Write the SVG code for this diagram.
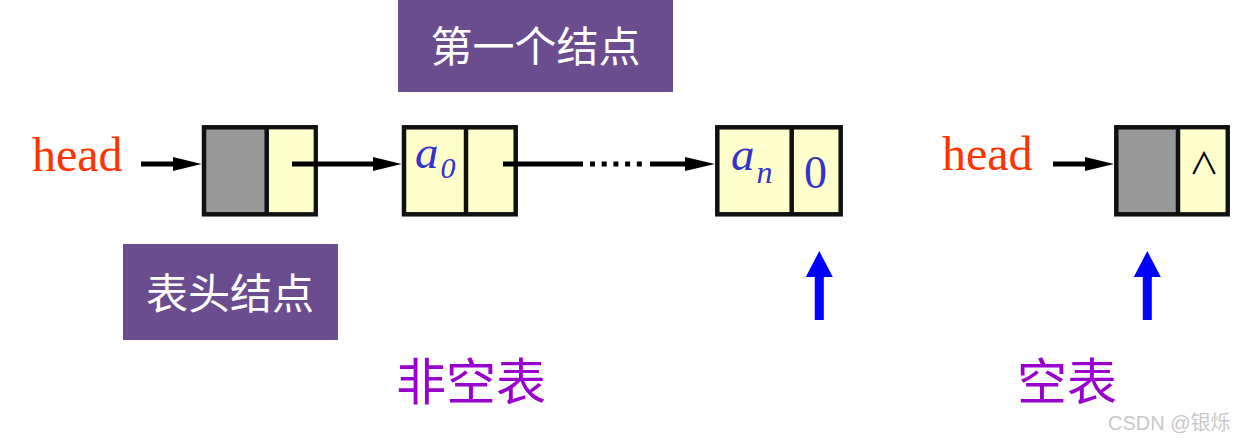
<svg xmlns="http://www.w3.org/2000/svg" width="1246" height="443" viewBox="0 0 1246 443">
<style>
.box{stroke:#111;stroke-width:4.5}
.gray{fill:#999999}
.yel{fill:#FFFFCC}
.div{stroke:#111;stroke-width:4.5}
.head{font-family:"Liberation Serif","Times New Roman",serif;font-size:48px;fill:#FF3300}
.val{font-family:"Liberation Serif","Times New Roman",serif;fill:#3333CC}
.lab{font-family:"Noto Sans CJK SC","Noto Sans",sans-serif;font-size:42px;fill:#ffffff;text-anchor:middle}
.cap{font-family:"Noto Sans CJK SC","Noto Sans",sans-serif;font-size:50px;fill:#9900CC}
.ln{stroke:#000;stroke-width:5;fill:none}
.ah{fill:#000}
.up{fill:#0000FF}
</style>
<rect x="0" y="0" width="1246" height="443" fill="#ffffff"/>

<g id="label-first">
<rect x="398" y="0" width="275" height="92" fill="#6B4C8E"/>
<text class="lab" x="535.5" y="62">第一个结点</text>
</g>
<g id="label-headnode">
<rect x="123" y="244" width="215" height="96" fill="#6B4C8E"/>
<text class="lab" x="230" y="309">表头结点</text>
</g>

<g id="head-text-1"><text class="head" x="32" y="171">head</text></g>
<g id="head-text-2"><text class="head" x="942" y="170">head</text></g>

<g id="node-head">
<rect class="box gray" x="204" y="127.3" width="111.7" height="87"/>
<rect class="yel" x="266.7" y="129.5" width="46.8" height="82.6"/>
<line class="div" x1="266.7" y1="127.3" x2="266.7" y2="214.3"/>
</g>

<g id="node-a0">
<rect class="box yel" x="404" y="127.3" width="111.7" height="87"/>
<line class="div" x1="466" y1="127.3" x2="466" y2="214.3"/>
<text class="val" x="415" y="168" font-size="47" font-style="italic">a<tspan font-size="30" dx="2" dy="10">0</tspan></text>
</g>

<g id="node-an">
<rect class="box yel" x="717.3" y="127.3" width="123.4" height="87"/>
<line class="div" x1="791.7" y1="127.3" x2="791.7" y2="214.3"/>
<text class="val" x="731" y="170" font-size="47" font-style="italic">a<tspan font-size="32" dx="2" dy="13">n</tspan></text>
<text class="val" x="815.5" y="188" font-size="46" text-anchor="middle">0</text>
</g>

<g id="node-empty">
<rect class="box gray" x="1116.3" y="127.3" width="111.4" height="87"/>
<rect class="yel" x="1178" y="129.5" width="47.4" height="82.6"/>
<line class="div" x1="1178" y1="127.3" x2="1178" y2="214.3"/>
<text x="1204" y="174" font-family="Noto Sans CJK SC, sans-serif" font-size="30" text-anchor="middle" fill="#000">∧</text>
</g>

<g id="connectors">
<line class="ln" x1="141" y1="164" x2="176" y2="164"/>
<polygon class="ah" points="173,157 201.5,164 173,171"/>
<line class="ln" x1="292" y1="164" x2="376" y2="164"/>
<polygon class="ah" points="373,157 401.5,164 373,171"/>
<line class="ln" x1="503" y1="164" x2="583" y2="164"/>
<line class="ln" x1="590" y1="164" x2="645" y2="164" stroke-dasharray="5 6.7"/>
<line class="ln" x1="650" y1="164" x2="688" y2="164"/>
<polygon class="ah" points="685,157 715,164 685,171"/>
<line class="ln" x1="1053" y1="164" x2="1088" y2="164"/>
<polygon class="ah" points="1085,157 1114,164 1085,171"/>
</g>

<g id="pointer-last">
<polygon class="up" points="819.3,251 832.8,277 823.8,277 823.8,320 814.8,320 814.8,277 805.8,277"/>
</g>
<g id="pointer-empty">
<polygon class="up" points="1147.3,251 1160.8,277 1151.8,277 1151.8,320 1142.8,320 1142.8,277 1133.8,277"/>
</g>

<g id="caption-nonempty"><text class="cap" x="396" y="400">非空表</text></g>
<g id="caption-empty"><text class="cap" x="1017" y="400">空表</text></g>

<g id="watermark"><text x="1108" y="430" font-family="Liberation Sans, Noto Sans CJK SC, sans-serif" font-size="20" fill="#C8C8C8">CSDN @银烁</text></g>
</svg>
